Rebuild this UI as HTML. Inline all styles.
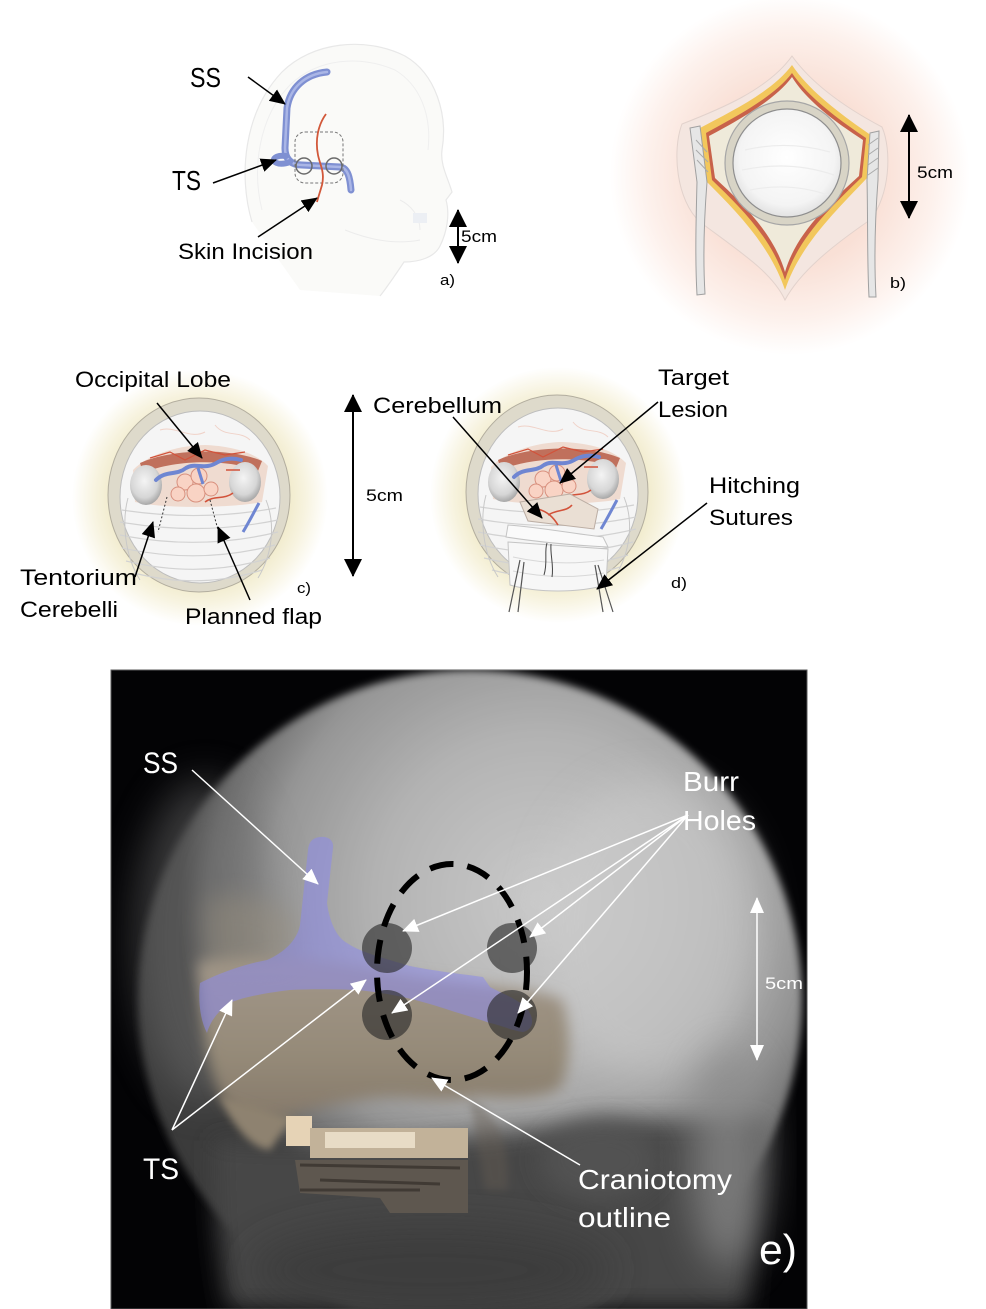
<!DOCTYPE html>
<html><head><meta charset="utf-8">
<style>
html,body{margin:0;padding:0;background:#fff;}
svg{display:block;}
text{font-family:"Liberation Sans",sans-serif;}
</style></head>
<body>
<svg xmlns="http://www.w3.org/2000/svg" width="986" height="1309" viewBox="0 0 986 1309">
<defs>
  <marker id="ak" markerUnits="userSpaceOnUse" markerWidth="16" markerHeight="14" refX="15" refY="7" orient="auto"><path d="M0,0 L16,7 L0,14 z" fill="#000"/></marker>
  <marker id="ad" markerUnits="userSpaceOnUse" markerWidth="18" markerHeight="18" refX="17" refY="9" orient="auto-start-reverse"><path d="M0,0 L18,9 L0,18 z" fill="#000"/></marker>
  <marker id="aw" markerUnits="userSpaceOnUse" markerWidth="16" markerHeight="14" refX="15" refY="7" orient="auto"><path d="M0,0 L16,7 L0,14 z" fill="#fff"/></marker>
  <marker id="awd" markerUnits="userSpaceOnUse" markerWidth="16" markerHeight="14" refX="15" refY="7" orient="auto-start-reverse"><path d="M0,0 L16,7 L0,14 z" fill="#fff"/></marker>

  <radialGradient id="glowB" gradientUnits="userSpaceOnUse" cx="790" cy="175" r="180">
    <stop offset="0" stop-color="#f6d2c4"/>
    <stop offset="0.5" stop-color="#f9e0d6"/>
    <stop offset="0.8" stop-color="#fdf1ec"/>
    <stop offset="1" stop-color="#ffffff"/>
  </radialGradient>
  <radialGradient id="glowC" gradientUnits="userSpaceOnUse" cx="200" cy="498" r="128">
    <stop offset="0.62" stop-color="#eee7c2"/>
    <stop offset="0.82" stop-color="#f7f3df"/>
    <stop offset="1" stop-color="#ffffff"/>
  </radialGradient>
  <radialGradient id="dura" cx="0.5" cy="0.45" r="0.55">
    <stop offset="0" stop-color="#ffffff"/>
    <stop offset="0.8" stop-color="#f4f4f4"/>
    <stop offset="1" stop-color="#e2e2e2"/>
  </radialGradient>
  <radialGradient id="ball" cx="0.45" cy="0.4" r="0.6">
    <stop offset="0" stop-color="#f4f4f4"/>
    <stop offset="0.7" stop-color="#d6d6d6"/>
    <stop offset="1" stop-color="#a8a8a8"/>
  </radialGradient>
  <radialGradient id="skullG" gradientUnits="userSpaceOnUse" cx="540" cy="900" r="360">
    <stop offset="0" stop-color="#c9c9c9"/>
    <stop offset="0.45" stop-color="#b3b3b3"/>
    <stop offset="0.75" stop-color="#969696"/>
    <stop offset="0.92" stop-color="#6c6c6c"/>
    <stop offset="1" stop-color="#3a3a3a"/>
  </radialGradient>
  <linearGradient id="tanG" x1="0" y1="0" x2="0" y2="1">
    <stop offset="0" stop-color="#a2978a"/>
    <stop offset="0.6" stop-color="#958a78"/>
    <stop offset="1" stop-color="#85796a"/>
  </linearGradient>
  <filter id="b4" x="-20%" y="-20%" width="140%" height="140%"><feGaussianBlur stdDeviation="4"/></filter>
  <filter id="b7" x="-20%" y="-20%" width="140%" height="140%"><feGaussianBlur stdDeviation="7"/></filter>
  <filter id="b12" x="-30%" y="-30%" width="160%" height="160%"><feGaussianBlur stdDeviation="12"/></filter>
  <filter id="b20" x="-40%" y="-40%" width="180%" height="180%"><feGaussianBlur stdDeviation="20"/></filter>
  <clipPath id="eclip"><rect x="111" y="670" width="696" height="639"/></clipPath>

  <g id="cpanel">
    <ellipse cx="199" cy="495" rx="91" ry="97" fill="#dedacb" stroke="#b2ad9e" stroke-width="1"/>
    <ellipse cx="200" cy="497" rx="80" ry="86" fill="#f5f5f5" stroke="#bdbdbd" stroke-width="1"/>
    <path d="M160,430 C175,425 190,440 205,432 M215,425 C225,438 240,430 250,440" stroke="#f0d2c8" stroke-width="1" fill="none"/>
    <path d="M133,470 C150,452 185,445 205,445 C230,446 255,452 268,466 L262,502 C240,507 170,510 135,502 Z" fill="#efdbd0"/>
    <path d="M140,463 C170,449 230,447 262,461 L258,471 C230,459 175,459 143,473 Z" fill="#c0705c"/>
    <path d="M150,458 L170,452 L185,460 L205,450 L225,455 L245,452" stroke="#d2523a" stroke-width="1.2" fill="none"/>
    <ellipse cx="146" cy="485" rx="16" ry="20" fill="url(#ball)"/>
    <ellipse cx="245" cy="482" rx="16" ry="20" fill="url(#ball)"/>
    <g fill="#f9d3c4" stroke="#d8907e" stroke-width="1">
      <circle cx="185" cy="482" r="8"/>
      <circle cx="199" cy="476" r="8"/>
      <circle cx="178" cy="494" r="7"/>
      <circle cx="196" cy="493" r="9"/>
      <circle cx="211" cy="489" r="7"/>
    </g>
    <path d="M156,480 C166,470 176,476 186,468 C196,462 204,471 218,462 C226,458 234,458 241,460" stroke="#6f86d2" stroke-width="4" fill="none" stroke-linecap="round"/>
    <path d="M198,468 L203,484" stroke="#6f86d2" stroke-width="3" fill="none"/>
    <path d="M205,502 C214,495 224,500 233,493 M226,470 L240,470" stroke="#d2523a" stroke-width="1.5" fill="none"/>
    <g stroke="#d2d2d2" stroke-width="1.2" fill="none">
      <path d="M122,510 Q200,522 276,508"/>
      <path d="M120,522 Q200,536 278,520"/>
      <path d="M120,535 Q200,551 278,532"/>
      <path d="M122,548 Q200,565 275,545"/>
      <path d="M126,561 Q200,579 270,558"/>
      <path d="M134,573 Q200,590 262,570"/>
    </g>
    <path d="M128,498 C122,520 124,555 140,580" stroke="#c8c8c8" stroke-width="1" fill="none"/>
    <path d="M266,500 C276,525 272,555 258,578" stroke="#c8c8c8" stroke-width="1" fill="none"/>
    <path d="M259,503 C253,514 249,522 243,532" stroke="#6f86d2" stroke-width="3" fill="none"/>
  </g>
</defs>

<!-- ============ PANEL A ============ -->
<path d="M252,222 C238,175 244,112 282,72 C312,42 365,36 405,56 C436,74 448,115 442,150 C440,165 448,178 452,192 L446,200 C450,214 447,232 440,246 C434,258 418,262 404,262 C396,274 388,286 380,296 L300,290 Z" fill="#fafaf8" stroke="none"/>
<path d="M252,222 C238,175 244,112 282,72 C312,42 365,36 405,56 C436,74 448,115 442,150 C440,165 448,178 452,192 L446,200 C450,214 447,232 440,246 C434,258 418,262 404,262 C396,274 388,286 380,296" fill="none" stroke="#e8e8e8" stroke-width="1.2"/>
<path d="M262,210 C252,170 258,118 290,85 C318,58 360,55 395,70 C420,85 432,115 428,150" fill="none" stroke="#efefef" stroke-width="1"/>
<path d="M400,200 C410,205 420,215 420,230 M345,230 C370,240 395,245 420,240" fill="none" stroke="#ececec" stroke-width="1"/>
<rect x="413" y="213" width="14" height="10" fill="#eceff4"/>
<!-- sinus -->
<path d="M327,72 C305,74 290,88 287,108 L285,148 C285,160 292,165 302,165 L340,167 C348,168 350,178 351,190" fill="none" stroke="#7f90d2" stroke-width="7" stroke-linecap="round"/>
<path d="M327,72 C305,74 290,88 287,108 L285,148 C285,160 292,165 302,165 L340,167 C348,168 350,178 351,190" fill="none" stroke="#aab6e6" stroke-width="2.5" stroke-linecap="round"/>
<path d="M286,156 C279,155 273,157 274,161 C277,165 285,164 290,162" fill="none" stroke="#7f90d2" stroke-width="6" stroke-linecap="round"/>
<rect x="295" y="132" width="48" height="51" rx="10" fill="none" stroke="#777" stroke-width="1" stroke-dasharray="3,2"/>
<circle cx="304" cy="166" r="8" fill="none" stroke="#6a6a6a" stroke-width="1.5"/>
<circle cx="334" cy="166" r="8" fill="none" stroke="#6a6a6a" stroke-width="1.5"/>
<path d="M326,114 C318,125 315,140 318,155 C320,165 325,172 322,185 C320,192 318,198 317,202" fill="none" stroke="#d2583a" stroke-width="1.8"/>
<line x1="248" y1="77" x2="285" y2="104" stroke="#000" stroke-width="1.5" marker-end="url(#ak)"/>
<line x1="213" y1="183" x2="276" y2="160" stroke="#000" stroke-width="1.5" marker-end="url(#ak)"/>
<line x1="258" y1="237" x2="317" y2="198" stroke="#000" stroke-width="1.5" marker-end="url(#ak)"/>
<line x1="458" y1="210" x2="458" y2="263" stroke="#000" stroke-width="2" marker-start="url(#ad)" marker-end="url(#ad)"/>
<text x="190" y="87" font-size="28" textLength="31" lengthAdjust="spacingAndGlyphs">SS</text>
<text x="172" y="190" font-size="28" textLength="29" lengthAdjust="spacingAndGlyphs">TS</text>
<text x="178" y="259" font-size="22" textLength="135" lengthAdjust="spacingAndGlyphs">Skin Incision</text>
<text x="461" y="242" font-size="17" textLength="36" lengthAdjust="spacingAndGlyphs">5cm</text>
<text x="440" y="285" font-size="15" textLength="15" lengthAdjust="spacingAndGlyphs">a)</text>

<!-- ============ PANEL B ============ -->
<rect x="590" y="0" width="396" height="365" fill="url(#glowB)"/>
<path d="M792,56 C768,90 718,110 682,124 C672,150 676,200 700,222 C740,252 772,272 785,300 C800,272 832,246 870,220 C890,196 892,150 882,127 C846,108 812,84 792,56 Z" fill="#f4e6e0" stroke="#e2d2cc" stroke-width="1"/>
<path d="M792,65 C772,92 730,112 700,128 L707,182 C735,210 770,245 785,290 C800,245 835,212 867,178 L872,136 C842,115 810,92 792,65 Z" fill="#f2c75c"/>
<path d="M792,73 C774,97 735,117 706,133 L712,180 C740,207 772,238 785,280 C798,238 830,208 862,177 L866,138 C838,119 808,97 792,73 Z" fill="#c8624a"/>
<path d="M792,77 C775,100 739,120 709,136 L715,178 C743,204 774,234 785,272 C796,234 827,205 859,176 L863,140 C835,122 806,100 792,77 Z" fill="#efeada"/>
<circle cx="787" cy="163" r="62" fill="#d8d4c6" stroke="#a6a6a6" stroke-width="1.2"/>
<circle cx="787" cy="163" r="54" fill="url(#dura)" stroke="#8e8e8e" stroke-width="1.2"/>
<path d="M745,150 Q787,140 830,152 M742,170 Q790,160 834,175 M750,190 Q790,182 828,195" fill="none" stroke="#ececec" stroke-width="1.2"/>
<path d="M690,128 L700,126 L707,182 C704,220 703,260 705,294 L697,295 C695,260 696,220 697,182 Z" fill="#e6e6e6" stroke="#a0a0a0" stroke-width="1"/>
<path d="M696,140 L707,152 M696,150 L708,162 M697,160 L708,172" stroke="#aaa" stroke-width="1"/>
<path d="M870,133 L879,131 L878,180 C875,220 874,260 876,297 L869,297 C867,260 868,220 867,180 Z" fill="#e6e6e6" stroke="#a0a0a0" stroke-width="1"/>
<path d="M868,145 L878,138 M868,155 L878,148 M868,165 L878,158 M868,175 L878,168" stroke="#aaa" stroke-width="1"/>
<line x1="909" y1="115" x2="909" y2="218" stroke="#000" stroke-width="2" marker-start="url(#ad)" marker-end="url(#ad)"/>
<text x="917" y="178" font-size="17" textLength="36" lengthAdjust="spacingAndGlyphs">5cm</text>
<text x="890" y="288" font-size="15" textLength="16" lengthAdjust="spacingAndGlyphs">b)</text>

<!-- ============ PANEL C ============ -->
<circle cx="200" cy="498" r="128" fill="url(#glowC)"/>
<use href="#cpanel"/>
<path d="M167,497 L158,532 M210,500 L218,530" stroke="#333" stroke-width="1" stroke-dasharray="2,2" fill="none"/>
<line x1="157" y1="403" x2="202" y2="458" stroke="#000" stroke-width="1.5" marker-end="url(#ak)"/>
<line x1="135" y1="577" x2="153" y2="522" stroke="#000" stroke-width="1.5" marker-end="url(#ak)"/>
<line x1="250" y1="600" x2="218" y2="527" stroke="#000" stroke-width="1.5" marker-end="url(#ak)"/>
<line x1="353" y1="395" x2="353" y2="576" stroke="#000" stroke-width="2" marker-start="url(#ad)" marker-end="url(#ad)"/>
<text x="75" y="387" font-size="22" textLength="156" lengthAdjust="spacingAndGlyphs">Occipital Lobe</text>
<text x="20" y="585" font-size="22" textLength="117" lengthAdjust="spacingAndGlyphs">Tentorium</text>
<text x="20" y="617" font-size="22" textLength="98" lengthAdjust="spacingAndGlyphs">Cerebelli</text>
<text x="185" y="624" font-size="22" textLength="137" lengthAdjust="spacingAndGlyphs">Planned flap</text>
<text x="366" y="501" font-size="17" textLength="37" lengthAdjust="spacingAndGlyphs">5cm</text>
<text x="297" y="593" font-size="15" textLength="14" lengthAdjust="spacingAndGlyphs">c)</text>

<!-- ============ PANEL D ============ -->
<g transform="translate(358,-3)">
  <circle cx="200" cy="498" r="128" fill="url(#glowC)"/>
  <use href="#cpanel"/>
  <path d="M162,505 L212,497 L240,512 L236,532 L170,524 Z" fill="#eadfd4" stroke="#bcaea4" stroke-width="1"/>
  <path d="M180,512 C190,515 195,520 200,528 M190,518 C200,512 208,515 214,508" stroke="#d2523a" stroke-width="1.6" fill="none"/>
  <path d="M150,528 C180,530 210,536 245,540 L250,550 C210,548 180,545 148,540 Z" fill="#fafafa" stroke="#c4c4c4" stroke-width="1"/>
  <path d="M150,545 L250,552 L248,588 C220,596 180,596 152,588 Z" fill="#f7f7f7" stroke="#c4c4c4" stroke-width="1"/>
  <path d="M155,560 Q200,570 246,563 M155,574 Q200,584 246,576" stroke="#d8d8d8" stroke-width="1" fill="none"/>
  <path d="M189,546 C186,555 190,565 186,578 M193,547 C192,558 196,568 194,580" stroke="#444" stroke-width="1" fill="none"/>
</g>
<path d="M520,560 L509,612 M524,562 L518,612 M595,565 L603,612 M598,565 L613,612" stroke="#555" stroke-width="1.2" fill="none"/>
<line x1="453" y1="417" x2="542" y2="518" stroke="#000" stroke-width="1.5" marker-end="url(#ak)"/>
<line x1="658" y1="402" x2="560" y2="483" stroke="#000" stroke-width="1.5" marker-end="url(#ak)"/>
<line x1="707" y1="503" x2="597" y2="589" stroke="#000" stroke-width="1.5" marker-end="url(#ak)"/>
<text x="373" y="413" font-size="22" textLength="129" lengthAdjust="spacingAndGlyphs">Cerebellum</text>
<text x="658" y="385" font-size="22" textLength="71" lengthAdjust="spacingAndGlyphs">Target</text>
<text x="658" y="417" font-size="22" textLength="70" lengthAdjust="spacingAndGlyphs">Lesion</text>
<text x="709" y="493" font-size="22" textLength="91" lengthAdjust="spacingAndGlyphs">Hitching</text>
<text x="709" y="525" font-size="22" textLength="84" lengthAdjust="spacingAndGlyphs">Sutures</text>
<text x="671" y="588" font-size="15" textLength="16" lengthAdjust="spacingAndGlyphs">d)</text>

<!-- ============ PANEL E ============ -->
<rect x="111" y="670" width="696" height="639" fill="#030305" stroke="#5a5a5a" stroke-width="1"/>
<g clip-path="url(#eclip)">
  <ellipse cx="470" cy="1000" rx="332" ry="330" fill="url(#skullG)" filter="url(#b4)"/>
  <ellipse cx="205" cy="940" rx="70" ry="160" fill="#6e6e6e" opacity="0.5" filter="url(#b20)"/>
  <ellipse cx="650" cy="930" rx="110" ry="150" fill="#cfcfcf" opacity="0.5" filter="url(#b20)"/>
  <!-- lower neck -->
  <path d="M215,1140 C300,1150 450,1140 600,1120 L765,1120 L748,1309 L228,1309 C218,1260 214,1200 215,1140 Z" fill="#464646" filter="url(#b12)"/>
  <ellipse cx="600" cy="1160" rx="60" ry="40" fill="#555" opacity="0.8" filter="url(#b12)"/>
  <ellipse cx="728" cy="1160" rx="38" ry="110" fill="#8a8a8a" opacity="0.75" filter="url(#b20)"/>
  <ellipse cx="430" cy="1270" rx="180" ry="45" fill="#3a3a3a" opacity="0.8" filter="url(#b20)"/>
  <!-- tan occipital region -->
  <path d="M198,962 C260,950 330,960 400,974 C470,986 530,986 562,1000 C572,1030 570,1070 560,1088 C540,1100 505,1098 475,1096 C445,1104 405,1094 372,1098 C345,1102 320,1106 295,1114 C262,1126 236,1122 220,1095 C206,1065 198,1010 198,962 Z" fill="url(#tanG)" filter="url(#b7)"/>
  <path d="M205,900 C240,890 290,900 300,930 L290,965 L205,975 Z" fill="#9a907e" opacity="0.45" filter="url(#b12)"/>
  <!-- spine structures -->
  <path d="M220,1095 C232,1125 250,1148 270,1150 L292,1118 Z" fill="#8e8270" filter="url(#b4)"/>
  <rect x="286" y="1116" width="26" height="30" fill="#e6d3b6"/>
  <rect x="310" y="1128" width="158" height="30" fill="#c2b299"/>
  <rect x="325" y="1132" width="90" height="16" fill="#e8dcc6"/>
  <path d="M295,1160 L468,1160 L468,1213 L390,1213 L380,1198 L300,1193 Z" fill="#5e574f"/>
  <path d="M300,1165 L460,1168 M320,1180 L440,1184 M300,1190 L420,1190" stroke="#403a34" stroke-width="3"/>
  <path d="M470,1100 C495,1110 510,1140 508,1190 L485,1190 Z" fill="#665d52" opacity="0.4" filter="url(#b4)"/>
  <!-- purple sinus -->
  <path d="M200,983 C215,975 240,965 267,960 C285,952 297,940 300,925 L308,850 C309,842 312,838 320,837 C328,836 334,840 333,848 L327,903 C330,925 338,938 347,943 C360,952 380,957 410,966 C440,972 470,975 483,977 L490,987 C505,995 520,1000 528,1010 C535,1020 533,1030 523,1032 C510,1030 500,1025 490,1023 C475,1018 465,1015 455,1012 C420,1000 390,993 357,990 C330,989 310,989 290,990 C265,993 245,997 232,1002 C218,1010 210,1022 207,1033 C200,1020 198,1000 200,983 Z" fill="rgba(140,138,235,0.55)"/>
  <!-- burr holes -->
  <g fill="rgba(40,40,40,0.62)">
    <circle cx="387" cy="948" r="25"/>
    <circle cx="512" cy="948" r="25"/>
    <circle cx="387" cy="1015" r="25"/>
    <circle cx="512" cy="1015" r="25"/>
  </g>
  <!-- craniotomy outline -->
  <ellipse cx="452" cy="972" rx="75" ry="108" fill="none" stroke="#000" stroke-width="6" stroke-dasharray="24 14" stroke-dashoffset="6"/>
  <!-- white arrows -->
  <g stroke="#fff" stroke-width="1.5">
    <line x1="192" y1="770" x2="318" y2="884" marker-end="url(#aw)"/>
    <line x1="688" y1="815" x2="403" y2="931" marker-end="url(#aw)"/>
    <line x1="688" y1="815" x2="530" y2="937" marker-end="url(#aw)"/>
    <line x1="688" y1="815" x2="392" y2="1013" marker-end="url(#aw)"/>
    <line x1="688" y1="815" x2="518" y2="1013" marker-end="url(#aw)"/>
    <line x1="172" y1="1130" x2="232" y2="1000" marker-end="url(#aw)"/>
    <line x1="172" y1="1130" x2="366" y2="980" marker-end="url(#aw)"/>
    <line x1="580" y1="1165" x2="432" y2="1078" marker-end="url(#aw)"/>
    <line x1="757" y1="898" x2="757" y2="1060" marker-start="url(#awd)" marker-end="url(#awd)"/>
  </g>
  <g fill="#fff">
    <text x="143" y="773" font-size="30" textLength="35" lengthAdjust="spacingAndGlyphs">SS</text>
    <text x="683" y="791" font-size="28" textLength="56" lengthAdjust="spacingAndGlyphs">Burr</text>
    <text x="683" y="830" font-size="28" textLength="73" lengthAdjust="spacingAndGlyphs">Holes</text>
    <text x="143" y="1179" font-size="30" textLength="36" lengthAdjust="spacingAndGlyphs">TS</text>
    <text x="578" y="1189" font-size="28" textLength="154" lengthAdjust="spacingAndGlyphs">Craniotomy</text>
    <text x="578" y="1227" font-size="28" textLength="93" lengthAdjust="spacingAndGlyphs">outline</text>
    <text x="765" y="989" font-size="17" textLength="38" lengthAdjust="spacingAndGlyphs">5cm</text>
    <text x="759" y="1264" font-size="42" textLength="38" lengthAdjust="spacingAndGlyphs">e)</text>
  </g>
</g>
</svg>
</body></html>
